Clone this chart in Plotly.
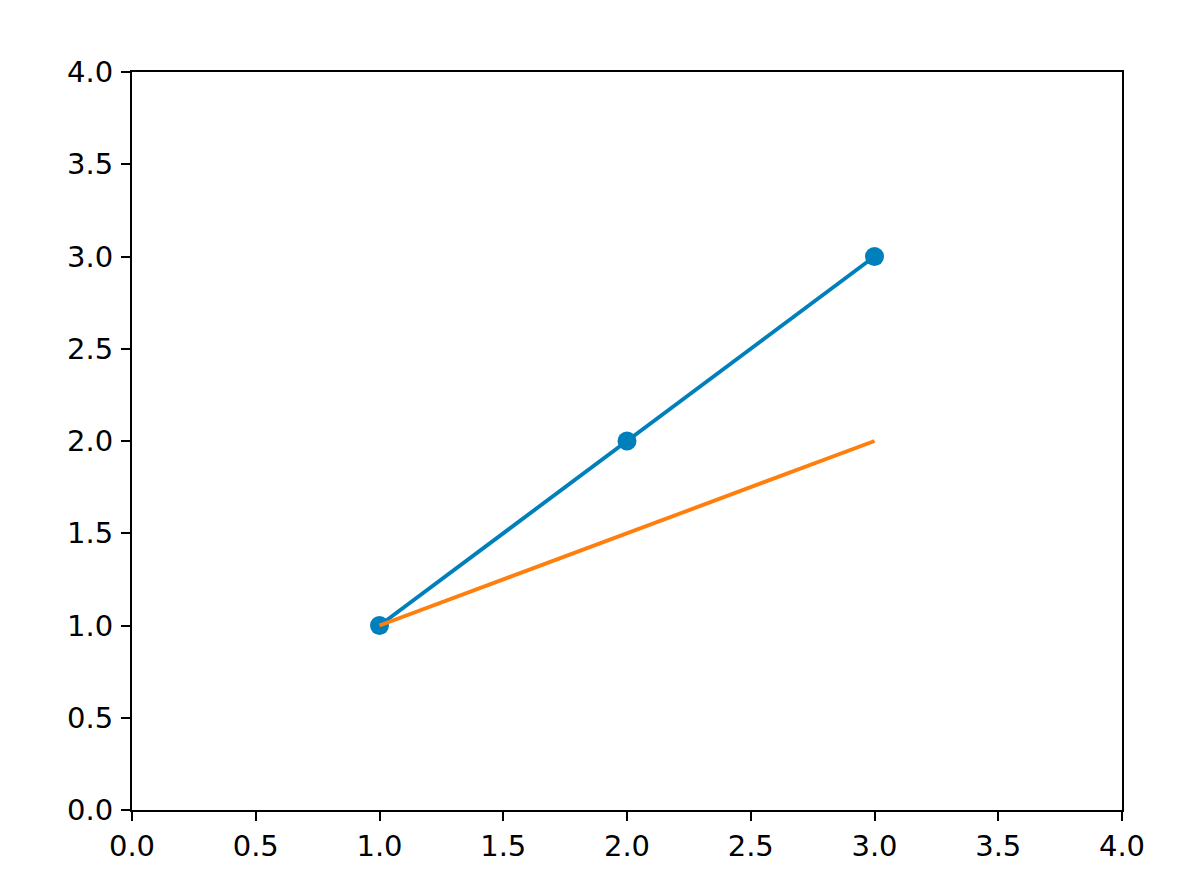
import plotly.graph_objects as go

x_vals = [1, 2, 3]
blue_y = [1, 2, 3]
orange_y = [1, 1.5, 2]
tick_vals = [0, 0.5, 1, 1.5, 2, 2.5, 3, 3.5, 4]
tick_text = ["0.0", "0.5", "1.0", "1.5", "2.0", "2.5", "3.0", "3.5", "4.0"]

fig = go.Figure()
fig.add_trace(go.Scatter(x=x_vals, y=blue_y, mode="lines+markers",
                         line=dict(color="#0080ba", width=3.9),
                         marker=dict(color="#0080ba", size=19)))
fig.add_trace(go.Scatter(x=x_vals, y=orange_y, mode="lines",
                         line=dict(color="#ff7f0e", width=3.9)))

axis = dict(range=[0, 4], tickvals=tick_vals, ticktext=tick_text,
            showgrid=False, zeroline=False, showline=True, mirror=True,
            linecolor="black", linewidth=2, ticks="outside", ticklen=9,
            tickwidth=2, tickcolor="black",
            tickfont=dict(family="DejaVu Sans", size=29, color="black"))

fig.update_layout(
    width=1190, height=884,
    margin=dict(l=124, r=76, t=64, b=82),
    plot_bgcolor="white", paper_bgcolor="white",
    showlegend=False,
    xaxis=dict(axis, ticklabelstandoff=0),
    yaxis=dict(axis, ticklabelstandoff=2),
)
fig.write_html("out.html")
